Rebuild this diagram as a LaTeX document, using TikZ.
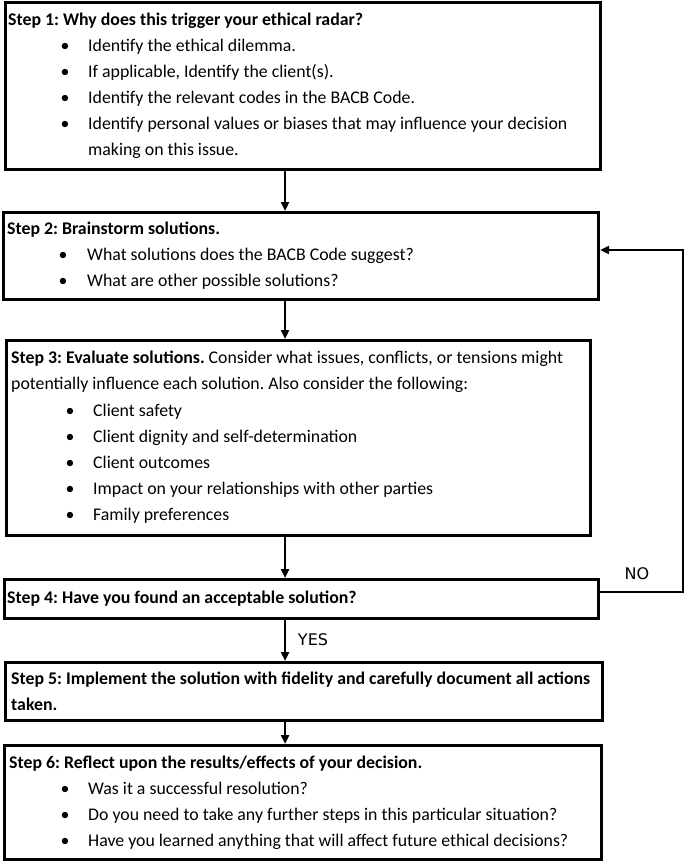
\documentclass[tikz,border=0pt]{standalone}
\usepackage{fontspec}
\setmainfont{Carlito}
\newfontfamily\yesnofont{DejaVu Sans}
\usetikzlibrary{arrows.meta}
\frenchspacing
\begin{document}
\begin{tikzpicture}[x=1pt,y=-1pt,
  stepbox/.style={draw,line width=3pt,inner sep=0pt,anchor=north west},
  conn/.style={line width=2.5pt},
  arr/.style={conn,-{Triangle[length=9pt,width=8pt]}},
  txt/.style={anchor=base west,inner sep=0pt,font=\fontsize{17.8}{20}\selectfont},
  bul/.style={anchor=base,inner sep=0pt,font=\fontsize{17.8}{20}\selectfont},
  lab/.style={inner sep=0pt,font=\yesnofont\fontsize{16}{18}\selectfont}]
\useasboundingbox (0,0) rectangle (685,861);
\fill[white] (0,0) rectangle (685,861);
% boxes
\node[stepbox,minimum width=595.5pt,minimum height=166.5pt] (s1) at (3.5,1.5) {};
\node[stepbox,minimum width=595pt,minimum height=87pt] (s2) at (2,211) {};
\node[stepbox,minimum width=584pt,minimum height=195pt] (s3) at (5,339) {};
\node[stepbox,minimum width=594.5pt,minimum height=39pt] (s4) at (2.5,578) {};
\node[stepbox,minimum width=597pt,minimum height=57.5pt] (s5) at (4,661) {};
\node[stepbox,minimum width=597.5pt,minimum height=114pt] (s6) at (2.5,744) {};
% box 1 text
\node[txt] (t1) at (8,26) {\textbf{Step 1: Why does this trigger your ethical radar?}};
\node[bul] (b1a) at (65,52) {\textbullet};
\node[txt] (t1a) at (88,52) {Identify the ethical dilemma.};
\node[bul] (b1b) at (65,78) {\textbullet};
\node[txt] (t1b) at (88,78) {If applicable, Identify the client(s).};
\node[bul] (b1c) at (65,104) {\textbullet};
\node[txt] (t1c) at (88,104) {Identify the relevant codes in the BACB Code.};
\node[bul] (b1d) at (65,130) {\textbullet};
\node[txt] (t1d) at (88,130) {Identify personal values or biases that may influence your decision};
\node[txt] (t1e) at (88,156) {making on this issue.};
% box 2 text
\node[txt] (t2) at (7,234) {\textbf{Step 2: Brainstorm solutions.}};
\node[bul] (b2a) at (63,260) {\textbullet};
\node[txt] (t2a) at (87,260) {What solutions does the BACB Code suggest?};
\node[bul] (b2b) at (63,286) {\textbullet};
\node[txt] (t2b) at (87,286) {What are other possible solutions?};
% box 3 text
\node[txt] (t3) at (11,363) {\textbf{Step 3: Evaluate solutions.} Consider what issues, conflicts, or tensions might};
\node[txt] (t3x) at (11,389) {potentially influence each solution. Also consider the following:};
\node[bul] (b3a) at (70,416) {\textbullet};
\node[txt] (t3a) at (93,416) {Client safety};
\node[bul] (b3b) at (70,442) {\textbullet};
\node[txt] (t3b) at (93,442) {Client dignity and self-determination};
\node[bul] (b3c) at (70,468) {\textbullet};
\node[txt] (t3c) at (93,468) {Client outcomes};
\node[bul] (b3d) at (70,494) {\textbullet};
\node[txt] (t3d) at (93,494) {Impact on your relationships with other parties};
\node[bul] (b3e) at (70,520) {\textbullet};
\node[txt] (t3e) at (93,520) {Family preferences};
% box 4 text
\node[txt] (t4) at (7,603) {\textbf{Step 4: Have you found an acceptable solution?}};
% box 5 text
\node[txt] (t5) at (11,684) {\textbf{Step 5: Implement the solution with fidelity and carefully document all actions}};
\node[txt] (t5x) at (11,710) {\textbf{taken.}};
% box 6 text
\node[txt] (t6) at (9,768) {\textbf{Step 6: Reflect upon the results/effects of your decision.}};
\node[bul] (b6a) at (65,794) {\textbullet};
\node[txt] (t6a) at (88,794) {Was it a successful resolution?};
\node[bul] (b6b) at (65,820) {\textbullet};
\node[txt] (t6b) at (88,820) {Do you need to take any further steps in this particular situation?};
\node[bul] (b6c) at (65,846) {\textbullet};
\node[txt] (t6c) at (88,846) {Have you learned anything that will affect future ethical decisions?};
% connectors
\coordinate (ax) at (285,0);
\draw[arr] (s1.south -| ax) -- (s2.north -| ax);
\draw[arr] (s2.south -| ax) -- (s3.north -| ax);
\draw[arr] (s3.south -| ax) -- (s4.north -| ax);
\draw[arr] (s4.south -| ax) -- (s5.north -| ax);
\draw[arr] (s5.south -| ax) -- (s6.north -| ax);
\coordinate (rx) at (683,0);
\coordinate (noy) at (0,592);
\coordinate (backy) at (0,250);
\draw[arr] (s4.east |- noy) -- (rx |- noy) -- (rx |- backy) -- (s2.east |- backy);
\node[lab] (yes) at (313,640) {YES};
\node[lab] (no) at (637,574) {NO};
\end{tikzpicture}
\end{document}
